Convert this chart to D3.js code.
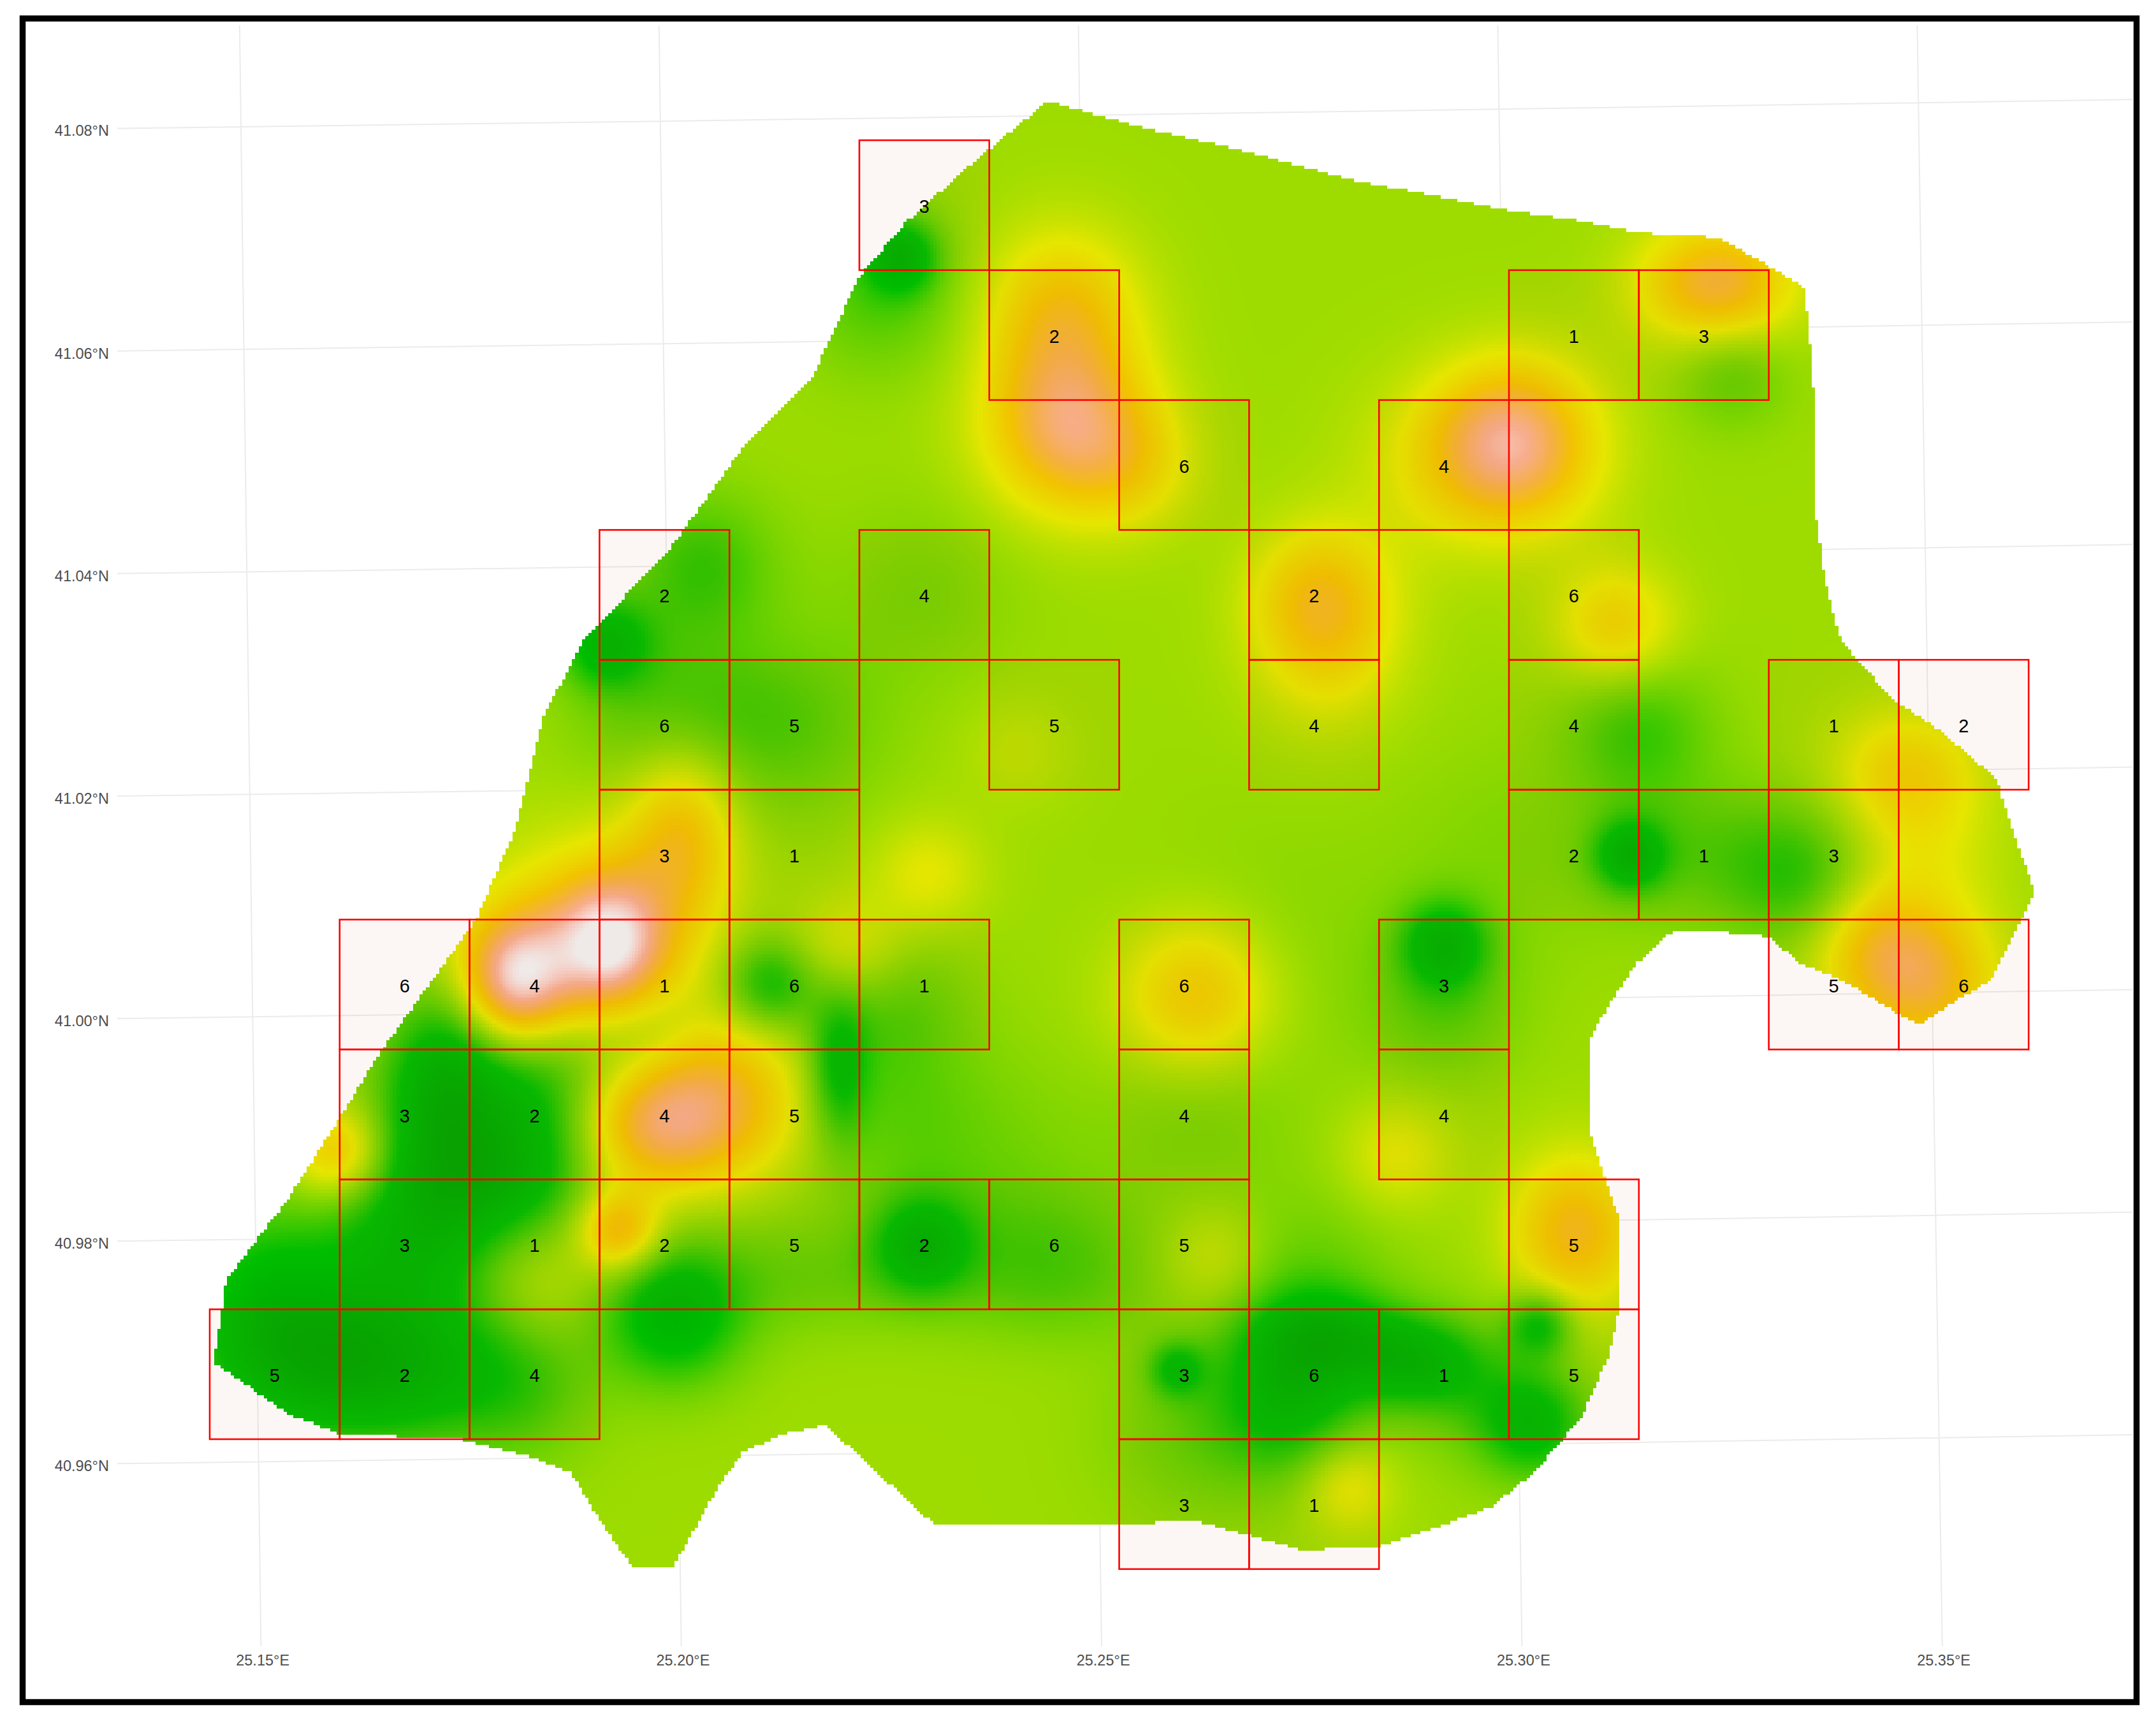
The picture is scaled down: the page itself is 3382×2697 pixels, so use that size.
<!DOCTYPE html>
<html>
<head>
<meta charset="utf-8">
<title>Grid cells over surface</title>
<script src="https://cdn.jsdelivr.net/npm/d3@7"></script>
<style>
  html, body { margin: 0; padding: 0; background: #fff; }
  svg { display: block; }
  text { font-family: "Liberation Sans", Arial, sans-serif; }
</style>
</head>
<body>
<div id="map"></div>
<script>
// tick values of the map
var lonTicks = [25.15, 25.20, 25.25, 25.30, 25.35];
var latTicks = [40.96, 40.98, 41.00, 41.02, 41.04, 41.06, 41.08];

// sampling squares: column, row, number written in the square
var cells = [
  [5,0,3],
  [6,1,2],[10,1,1],[11,1,3],
  [7,2,6],[9,2,4],
  [3,3,2],[5,3,4],[8,3,2],[10,3,6],
  [3,4,6],[4,4,5],[6,4,5],[8,4,4],[10,4,4],[12,4,1],[13,4,2],
  [3,5,3],[4,5,1],[10,5,2],[11,5,1],[12,5,3],
  [1,6,6],[2,6,4],[3,6,1],[4,6,6],[5,6,1],[7,6,6],[9,6,3],[12,6,5],[13,6,6],
  [1,7,3],[2,7,2],[3,7,4],[4,7,5],[7,7,4],[9,7,4],
  [1,8,3],[2,8,1],[3,8,2],[4,8,5],[5,8,2],[6,8,6],[7,8,5],[10,8,5],
  [0,9,5],[1,9,2],[2,9,4],[7,9,3],[8,9,6],[9,9,1],[10,9,5],
  [7,10,3],[8,10,1]
];

// outline of the surface, in grid units (column, row)
var outline = [
  [6.45,-0.30],[6.59,-0.26],[7.17,-0.10],[7.91,0.07],[8.81,0.31],[9.50,0.44],[10.0,0.54],[10.56,0.62],
  [10.98,0.71],[11.62,0.75],[11.99,0.96],[12.27,1.13],[12.31,1.47],[12.36,2.11],[12.36,2.85],[12.43,3.38],
  [12.54,3.82],[12.70,4.03],[12.99,4.33],[13.31,4.54],[13.75,4.91],[13.94,5.49],[14.05,5.78],[13.94,6.00],
  [13.71,6.47],[13.41,6.64],[13.17,6.81],[13.0,6.73],[12.57,6.47],[12.25,6.34],[11.99,6.13],[11.67,6.10],
  [11.25,6.10],[10.98,6.34],[10.72,6.74],[10.61,6.94],[10.61,7.61],[10.72,7.93],[10.85,8.30],[10.85,8.99],
  [10.77,9.36],[10.56,9.83],[10.19,10.26],[9.87,10.52],[9.39,10.70],[8.97,10.84],[8.39,10.85],[7.96,10.73],
  [7.59,10.63],[6.85,10.66],[5.58,10.66],[5.16,10.28],[4.74,9.89],[4.42,9.96],[4.10,10.10],[3.89,10.41],
  [3.57,10.98],[3.25,10.98],[3.04,10.68],[2.78,10.26],[2.46,10.13],[1.88,9.99],[1.03,9.97],[0.61,9.81],
  [0.03,9.41],[0.13,8.77],[0.61,8.14],[0.99,7.54],[1.32,7.01],[2.05,6.0],[2.35,5.31],[2.57,4.43],
  [2.88,3.85],[3.57,3.11],[4.10,2.37],[4.63,1.84],[5.0,1.05],[5.37,0.62],[5.90,0.15]
];

// surface level far from any spot
var baseLevel = 0.36;

// high spots: column, row, height, spread x, spread y
var highSpots = [
  [6.61,2.21,0.42,0.45,0.46],[6.56,1.31,0.27,0.42,0.45],[7.12,2.53,0.12,0.35,0.35],
  [9.98,2.32,0.40,0.40,0.42],[9.50,2.50,0.12,0.50,0.50],[10.40,2.40,0.10,0.40,0.50],[11.60,1.10,0.38,0.42,0.33],
  [8.60,3.75,0.24,0.40,0.50],[8.50,3.48,0.12,0.35,0.35],[10.83,3.75,0.23,0.33,0.33],
  [13.20,6.50,0.32,0.40,0.40],[12.78,6.18,0.20,0.35,0.35],[13.05,4.86,0.20,0.40,0.35],[13.20,5.49,0.11,0.40,0.50],
  [7.60,6.60,0.28,0.42,0.42],[10.51,8.40,0.33,0.35,0.42],[8.76,10.36,0.17,0.25,0.25],
  [7.75,8.62,0.12,0.30,0.30],[9.13,7.82,0.14,0.30,0.30],[5.53,5.65,0.14,0.30,0.30],[6.22,4.70,0.06,0.30,0.30],
  [0.98,7.80,0.30,0.25,0.25],[3.15,8.40,0.36,0.22,0.22],[3.85,7.42,0.38,0.50,0.45],[3.30,7.60,0.30,0.40,0.35],
  [2.35,6.50,0.44,0.27,0.33],[3.10,6.18,0.37,0.28,0.36],[2.75,6.30,0.30,0.60,0.42],[3.63,5.33,0.30,0.30,0.50],
  [2.94,5.81,0.12,0.50,0.50],[4.93,6.23,0.14,0.30,0.30],[2.50,8.85,0.13,0.35,0.35]
];

// low spots, same columns
var lowSpots = [
  [5.32,0.89,-0.28,0.20,0.20],[5.16,1.15,-0.15,0.45,0.45],
  [3.04,3.87,-0.30,0.25,0.25],[3.79,3.27,-0.18,0.40,0.40],[3.57,4.43,-0.15,0.50,0.50],[4.50,4.50,-0.12,0.50,0.50],
  [10.93,5.51,-0.30,0.20,0.20],[11.51,5.49,-0.12,0.60,0.40],[11.00,4.54,-0.18,0.40,0.40],[12.25,5.70,-0.17,0.38,0.38],
  [9.50,6.18,-0.30,0.24,0.24],[9.50,6.66,-0.12,0.40,0.40],[11.72,1.79,-0.13,0.30,0.30],
  [5.48,8.51,-0.30,0.27,0.27],[6.48,8.51,-0.10,0.60,0.35],
  [4.31,6.50,-0.26,0.25,0.25],[4.84,7.13,-0.25,0.17,0.40],[5.26,7.50,-0.09,0.50,0.50],[5.26,6.66,-0.12,0.40,0.40],
  [2.41,7.50,-0.32,0.60,0.60],[1.77,7.30,-0.26,0.30,0.55],[1.56,8.46,-0.28,0.50,0.50],[0.61,9.30,-0.33,0.55,0.45],
  [1.46,9.50,-0.30,0.60,0.40],[0.40,8.67,-0.15,0.40,0.40],[2.20,8.00,-0.12,0.40,0.30],[2.41,9.50,-0.14,0.40,0.50],
  [3.57,9.04,-0.34,0.38,0.38],
  [7.44,9.46,-0.22,0.15,0.15],[8.33,9.62,-0.30,0.40,0.45],[8.65,9.20,-0.22,0.40,0.25],[9.29,9.41,-0.28,0.35,0.25],
  [10.19,9.89,-0.28,0.30,0.30],[10.24,9.11,-0.28,0.18,0.18],[7.60,9.94,-0.10,0.50,0.50],[9.76,9.62,-0.10,0.40,0.40],
  [4.20,8.40,-0.04,0.50,0.50],[4.74,8.77,-0.08,0.60,0.30],[6.50,8.90,-0.07,0.60,0.30],
  [5.48,3.48,-0.07,0.50,0.50],[7.60,7.50,-0.07,0.50,0.50],[8.44,8.77,-0.10,0.50,0.50],[6.00,7.90,-0.07,0.60,0.60],
  [3.36,6.87,-0.12,0.30,0.30],[10.00,5.50,-0.05,0.60,0.60],[8.28,6.23,-0.04,0.80,0.80]
];

// colour ramp of the surface
var rampLevels = [-0.15, 0.10, 0.25, 0.37, 0.5, 0.65, 0.76, 0.86, 0.94, 1];
var rampColors = ["#00a600", "#00be00", "#63cf00", "#a3dd00", "#e6e600", "#f2c200", "#f5af45", "#f7ad8e", "#f7d3cb", "#f2f2f2"];

var svgWidth = 3382;
var svgHeight = 2697;
var rasterStep = 5.2;

var svg = d3.select("#map")
  .append("svg")
  .attr("width", svgWidth)
  .attr("height", svgHeight);

svg.append("rect")
  .attr("width", svgWidth)
  .attr("height", svgHeight)
  .attr("fill", "#fff");

// grid units to pixels
var xScale = d3.scaleLinear().domain([0, 14]).range([329, 3182.2]);
var yScale = d3.scaleLinear().domain([0, 11]).range([220, 2461.8]);
var rampScale = d3.scaleLinear().domain(rampLevels).range(rampColors).clamp(true);

// Greek grid style projection, central meridian 24E
var projection = d3.geoTransverseMercator()
  .rotate([-24, 0])
  .scale(1000000)
  .translate([0, 0]);
var tiePoint = projection([25.15, 41.08]);
projection
  .translate([378 - tiePoint[0], 199 - tiePoint[1]])
  .clipExtent([[184, 40], [3345, 2583]]);

var geoPath = d3.geoPath(projection);

// graticule goes under everything else
var graticule = d3.geoGraticule()
  .extent([[25.05, 40.90], [25.45, 41.14]])
  .step([0.05, 0.02])
  .precision(0.01);

svg.append("path")
  .attr("d", geoPath(graticule()))
  .attr("fill", "none")
  .attr("stroke", "#ebebeb")
  .attr("stroke-width", 2);

// value of the surface at one spot of the grid
function surfaceLevel(col, row) {
  var level = baseLevel;
  highSpots.concat(lowSpots).forEach(function(s) {
    var dx = (col - s[0]) / s[3];
    var dy = (row - s[1]) / s[4];
    level += s[2] * Math.exp(-0.5 * (dx * dx + dy * dy));
  });
  return level;
}

// paint the raster in a canvas, then put it in the svg as an image
var canvas = document.createElement("canvas");
canvas.width = svgWidth;
canvas.height = svgHeight;
var ctx = canvas.getContext("2d");

for (var py = 140; py < 2480; py += rasterStep) {
  for (var px = 320; px < 3210; px += rasterStep) {
    var col = xScale.invert(px + rasterStep / 2);
    var row = yScale.invert(py + rasterStep / 2);
    if (d3.polygonContains(outline, [col, row])) {
      ctx.fillStyle = rampScale(surfaceLevel(col, row));
      ctx.fillRect(Math.round(px), Math.round(py), Math.round(px + rasterStep) - Math.round(px), Math.round(py + rasterStep) - Math.round(py));
    }
  }
}

svg.append("image")
  .attr("width", svgWidth)
  .attr("height", svgHeight)
  .attr("href", canvas.toDataURL("image/png"));

// squares
svg.selectAll("rect.cell")
  .data(cells)
  .enter()
  .append("rect")
  .attr("class", "cell")
  .attr("x", d => xScale(d[0]))
  .attr("y", d => yScale(d[1]))
  .attr("width", d => xScale(d[0] + 1) - xScale(d[0]))
  .attr("height", d => yScale(d[1] + 1) - yScale(d[1]))
  .attr("fill", "#b04020")
  .attr("fill-opacity", 0.045)
  .attr("stroke", "#ff0000")
  .attr("stroke-width", 2.6);

svg.selectAll("text.cell-label")
  .data(cells)
  .enter()
  .append("text")
  .attr("class", "cell-label")
  .attr("x", d => xScale(d[0] + 0.5))
  .attr("y", d => yScale(d[1] + 0.5))
  .attr("dy", "0.42em")
  .attr("text-anchor", "middle")
  .attr("font-size", 29)
  .attr("fill", "#000")
  .text(d => d[2]);

// axis labels
svg.selectAll("text.lon-label")
  .data(lonTicks)
  .enter()
  .append("text")
  .attr("class", "lon-label")
  .attr("x", d => projection([d, 40.94])[0] + 2)
  .attr("y", 2613)
  .attr("text-anchor", "middle")
  .attr("font-size", 23.5)
  .attr("fill", "#4d4d4d")
  .text(d => d.toFixed(2) + "°E");

svg.selectAll("text.lat-label")
  .data(latTicks)
  .enter()
  .append("text")
  .attr("class", "lat-label")
  .attr("x", 171)
  .attr("y", d => projection([25.13, d])[1] + 11)
  .attr("text-anchor", "end")
  .attr("font-size", 23.5)
  .attr("fill", "#4d4d4d")
  .text(d => d.toFixed(2) + "°N");

// black frame round the picture
svg.append("rect")
  .attr("x", 35.5)
  .attr("y", 29)
  .attr("width", 3316)
  .attr("height", 2641.5)
  .attr("fill", "none")
  .attr("stroke", "#000")
  .attr("stroke-width", 9.5);
</script>
</body>
</html>
